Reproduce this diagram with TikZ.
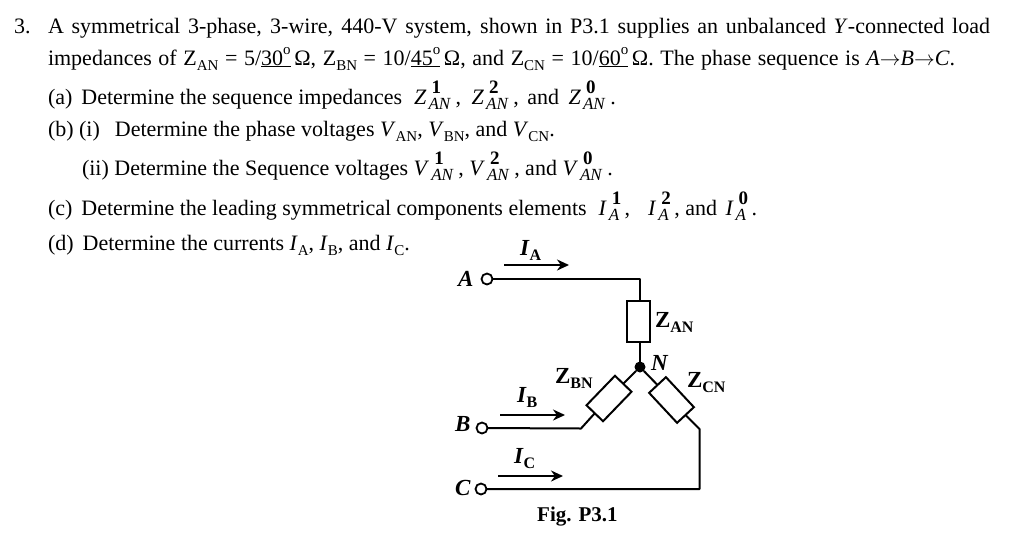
\documentclass[tikz,border=0pt]{standalone}
\usepackage{fontspec}
\setmainfont{Liberation Serif}
\usetikzlibrary{arrows.meta}
\newcommand{\dn}[1]{\raisebox{-.24em}{\fontsize{15}{15}\selectfont #1}}
\newcommand{\ssb}[2]{\hspace{2pt}\rlap{\raisebox{.47em}{\hspace{3pt}\fontsize{19}{19}\selectfont\bfseries #1}}\raisebox{-.26em}{\fontsize{17}{17}\selectfont\itshape #2}}
\newcommand{\angl}[1]{$\underline{\hbox{#1\raisebox{.5em}{\fontsize{15}{15}\selectfont o}}}$}
\newcommand{\lbl}[2]{\textbf{\textit{#1}}\raisebox{-.22em}{\fontsize{16}{16}\selectfont\textbf{#2}}}
\newcommand{\zl}[2]{\textbf{#1}\raisebox{-.22em}{\fontsize{16}{16}\selectfont\textbf{#2}}}
\tikzset{
  txt/.style={anchor=base west,inner sep=0pt,outer sep=0pt,font=\fontsize{22}{23}\selectfont},
  dlab/.style={anchor=base west,inner sep=0pt,outer sep=0pt,font=\fontsize{23}{23}\selectfont},
  wire/.style={line width=2pt,line join=round},
  term/.style={circle,draw,line width=1.8pt,fill=white,minimum size=11pt,inner sep=0pt,outer sep=0pt},
  imp/.style={rectangle,draw,line width=2pt,minimum width=41pt,minimum height=23pt,inner sep=0pt,outer sep=0pt},
  jdot/.style={circle,fill=black,minimum size=11pt,inner sep=0pt,outer sep=0pt},
  cur/.style={line width=2pt,-{Stealth[length=12pt,width=11pt]}}
}
\begin{document}
\begin{tikzpicture}[x=1pt,y=-1pt]
\useasboundingbox[fill=white] (0,0) rectangle (1024,557);
% text
\node[txt] (num) at (14,33) {3.};
\node[txt] (l1) at (48,33) {\makebox[942pt][s]{A symmetrical 3-phase, 3-wire, 440-V system, shown in P3.1 supplies an unbalanced \textit{Y}-connected load}};
\node[txt] (l2) at (48,65) {\makebox[907pt][s]{impedances of Z\dn{AN} = 5/\angl{30}\,Ω, Z\dn{BN} = 10/\angl{45}\,Ω, and Z\dn{CN} = 10/\angl{60}\,Ω. The phase sequence is \textit{A}$\rightarrow$\textit{B}$\rightarrow$\textit{C}.}};
\node[txt] (la) at (48,104) {(a)\hspace{9pt}Determine the sequence impedances\hspace{12pt}\textit{Z}\ssb{1}{AN} , \hspace{5pt}\textit{Z}\ssb{2}{AN} ,\hspace{3pt} and \hspace{4pt}\textit{Z}\ssb{0}{AN} .};
\node[txt] (lb) at (48,136) {(b) (i)\hspace{15pt}Determine the phase voltages \textit{V}\dn{AN}, \textit{V}\dn{BN}, and \textit{V}\dn{CN}.};
\node[txt] (lc) at (82,175) {(ii) Determine the Sequence voltages \textit{V}\ssb{1}{AN} , \textit{V}\ssb{2}{AN} , and \textit{V}\ssb{0}{AN} .};
\node[txt] (ld) at (48,215) {(c)\hspace{9pt}Determine the leading symmetrical components elements\hspace{12pt}\textit{I}\ssb{1}{A} ,\hspace{18pt}\textit{I}\ssb{2}{A} , and \hspace{3pt}\textit{I}\ssb{0}{A} .};
\node[txt] (le) at (48,250) {(d)\hspace{9pt}Determine the currents \textit{I}\dn{A}, \textit{I}\dn{B}, and \textit{I}\dn{C}.};
% circuit
\node[term] (ta) at (487,279) {};
\node[term] (tb) at (482,428) {};
\node[term] (tc) at (481,489) {};
\node[jdot] (n) at (640,367) {};
\node[imp,rotate=90] (zan) at (638.5,321.5) {};
\node[imp,rotate=46] (zbn) at (609,398.5) {};
\node[imp,rotate=-47] (zcn) at (671.5,400) {};
\coordinate (ca) at (640,279);
\coordinate (cb) at (581,428.5);
\coordinate (cc) at (699.5,429);
\coordinate (cd) at (699.5,489);
\draw[wire] (ta) -- (ca) -- (ca |- zan.east);
\draw[wire] (zan.west -| n) -- (n);
\draw[wire] (tb) -- (cb) -- (zbn.west);
\draw[wire] (zbn.east) -- (n);
\draw[wire] (n) -- (zcn.west);
\draw[wire] (zcn.east) -- (cc) -- (cd) -- (tc);
\coordinate (ia1) at (504,265); \coordinate (ia2) at (569,265);
\coordinate (ib1) at (500,415); \coordinate (ib2) at (565,415);
\coordinate (ic1) at (498,476); \coordinate (ic2) at (563,476);
\draw[cur] (ia1) -- (ia2);
\draw[cur] (ib1) -- (ib2);
\draw[cur] (ic1) -- (ic2);
\node[dlab] (lba) at (458,286) {\textbf{\textit{A}}};
\node[dlab] (lbb) at (455,431) {\textbf{\textit{B}}};
\node[dlab] (lbc) at (455,495) {\textbf{\textit{C}}};
\node[dlab] (ll1) at (520,255) {\lbl{I}{A}};
\node[dlab] (ll2) at (517,402) {\lbl{I}{B}};
\node[dlab] (ll3) at (514,463) {\lbl{I}{C}};
\node[dlab] (lz1) at (655,327) {\zl{Z}{AN}};
\node[dlab] (lz2) at (555,383) {\zl{Z}{BN}};
\node[dlab] (lz3) at (687,387) {\zl{Z}{CN}};
\node[dlab] (ln) at (651,370) {\textbf{\textit{N}}};
\node[anchor=base west,inner sep=0pt,font=\fontsize{21}{21}\selectfont\bfseries] (fig) at (537,521) {Fig. P3.1};
\end{tikzpicture}
\end{document}
